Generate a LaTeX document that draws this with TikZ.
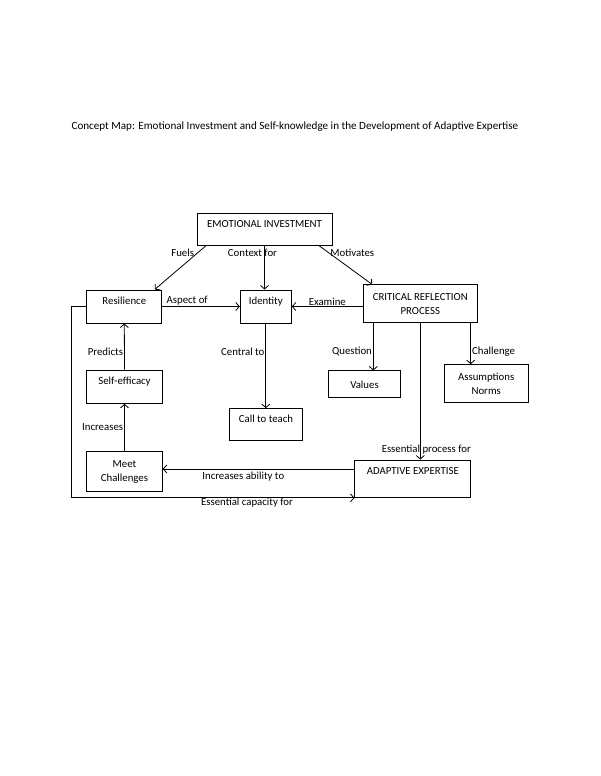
\documentclass[tikz,border=0pt]{standalone}
\usepackage{fontspec}
\setmainfont{Carlito}
\usetikzlibrary{arrows.meta}
\usetikzlibrary{calc}

\begin{document}
\begin{tikzpicture}[x=1pt, y=-1pt, line width=0.8pt,
  box/.style={draw, line width=1pt, inner sep=0pt, align=center, font=\fontsize{10.8}{14}\selectfont},
  upbox/.style={box, text height=8pt, text depth=12.5pt},
  lbl/.style={font=\fontsize{10.8}{13}\selectfont, inner sep=1pt},
  ->/.style={-{Straight Barb[length=3.5pt,width=8pt]}}]
\useasboundingbox (0,0) rectangle (600,776);

\node[anchor=west, inner sep=0pt, font=\fontsize{11.1}{13}\selectfont] (title) at (71.2,126.7) {Concept Map: Emotional Investment and Self-knowledge in the Development of Adaptive Expertise};

\node[upbox, minimum width=135pt, minimum height=32pt, text depth=10.5pt] (ei) at (264.5,229) {EMOTIONAL INVESTMENT};
\node[upbox, minimum width=75.3pt, minimum height=33pt] (res) at (124.3,306.5) {Resilience};
\node[upbox, minimum width=51pt, minimum height=33pt] (ident) at (265.8,306.5) {Identity};
\node[box, minimum width=114pt, minimum height=37.7pt] (crp) at (420.3,303.8) {CRITICAL REFLECTION\\PROCESS};
\node[box, minimum width=72.4pt, minimum height=26.7pt] (val) at (364.5,384.3) {Values};
\node[box, minimum width=84.3pt, minimum height=38pt] (assum) at (486.2,383.7) {Assumptions\\Norms};
\node[upbox, minimum width=75.6pt, minimum height=33.3pt] (selfeff) at (124.5,386.7) {Self-efficacy};
\node[upbox, minimum width=73.4pt, minimum height=32.3pt] (call) at (266,424.8) {Call to teach};
\node[box, minimum width=75.6pt, minimum height=40pt] (meet) at (124.5,471.7) {Meet\\Challenges};
\node[upbox, minimum width=115.7pt, minimum height=37.3pt, text depth=16.5pt] (ae) at (412.8,478.7) {ADAPTIVE EXPERTISE};

\coordinate (qv) at ([xshift=-47pt]crp.south);
\coordinate (ch) at ([xshift=50.4pt]crp.south);
\coordinate (ia) at ([yshift=9.7pt]ae.west);

\path[->] ([xshift=9.7pt]ei.south west) edge node[lbl, pos=0.17, left, xshift=-2pt] {Fuels} ([xshift=-7.7pt]res.north east);
\path[->] (ei.south) edge node[lbl, pos=0.17, xshift=-12pt] {Context for} (ei.south |- ident.north);
\path[->] ([xshift=-13.7pt]ei.south east) edge node[lbl, pos=0.19, right] {Motivates} ([xshift=9.4pt]crp.north west);
\path[->] (res.east) edge node[lbl, pos=0.32, above] {Aspect of} (ident.west);
\path[->] (ident.east -| crp.west) edge node[lbl, midway, above] {Examine} (ident.east);
\path[->] (ident.south) edge node[lbl, pos=0.33, left] {Central to} (ident.south |- call.north);
\path[->] (qv) edge node[lbl, pos=0.6, left] {Question} (qv |- val.north);
\path[->] (ch) edge node[lbl, pos=0.69, right] {Challenge} (ch |- assum.north);
\path[->] (crp.south) edge node[lbl, pos=0.93, xshift=6pt] {Essential process for} (crp.south |- ae.north);
\path[->] (selfeff.north) edge node[lbl, pos=0.39, left] {Predicts} (res.south);
\path[->] (meet.north) edge node[lbl, pos=0.52, left] {Increases} (selfeff.south);
\path[->] (ia) edge node[lbl, pos=0.58, below, yshift=-2pt] {Increases ability to} (ia -| meet.east);
\draw[->] (res.west) -- ++(-14.4,0) |- node[lbl, pos=0.81, below, yshift=1pt] {Essential capacity for} (ae.south west);
\end{tikzpicture}
\end{document}
